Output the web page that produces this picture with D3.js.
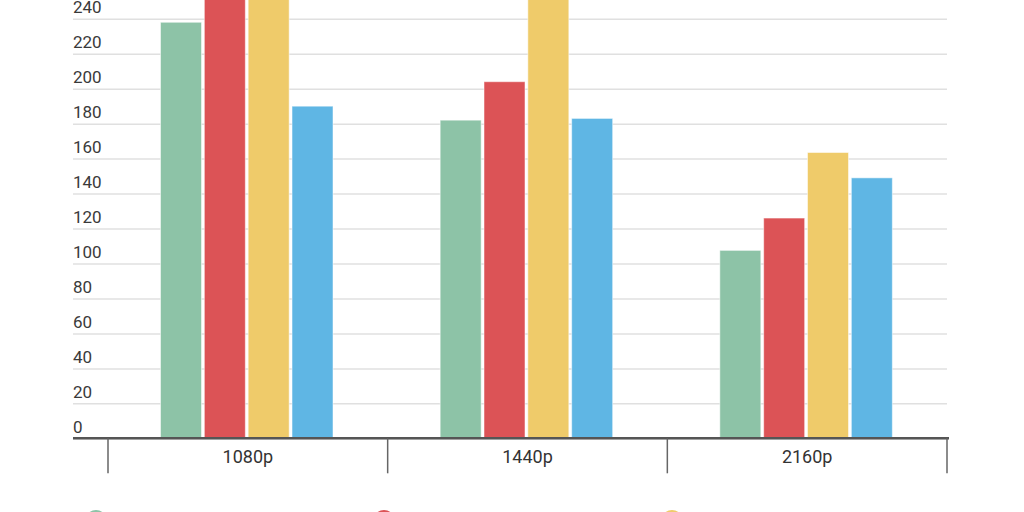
<!DOCTYPE html>
<html>
<head>
<meta charset="utf-8">
<script src="https://cdn.jsdelivr.net/npm/d3@7"></script>
<style>
	html, body { margin: 0; padding: 0; background: #fff; overflow: hidden; }
	#chart { width: 1024px; height: 512px; }
	.grid line { stroke: #e0e0e0; stroke-width: 1.5; }
	.grid path { display: none; }
	.grid text { font-family: Roboto, sans-serif; font-size: 17px; fill: #3a3a3a; }
	.cat text { font-family: Roboto, sans-serif; font-size: 18px; fill: #333; }
</style>
</head>
<body>
<div id="chart"></div>
<script>
var categories = ["1080p", "1440p", "2160p"];
var seriesNames = ["Series 1", "Series 2", "Series 3", "Series 4"];
var seriesColors = ["#8dc3a7", "#dc5356", "#efcb6a", "#5fb6e4"];
var series1 = [238, 182, 107.5];
var series2 = [280, 204, 126];
var series3 = [292, 262, 163.5];
var series4 = [190, 183, 149];
var yTicks = [0, 20, 40, 60, 80, 100, 120, 140, 160, 180, 200, 220, 240];

var allSeries = [series1, series2, series3, series4];

function drawBarChart() {
	var width = 1024,
		height = 512,
		gridLeft = 73,
		plotLeft = 108,
		plotRight = 947,
		zeroY = 438.3;

	var svg = d3.select("#chart")
		.append("svg")
		.attr("width", width)
		.attr("height", height);

	var x = d3.scaleBand()
		.domain(categories)
		.range([plotLeft, plotRight])
		.padding(0);

	var xSub = d3.scaleBand()
		.domain(seriesNames)
		.range([52.5, 225])
		.paddingInner(0.065)
		.paddingOuter(0);

	var y = d3.scaleLinear()
		.domain([0, 240])
		.range([zeroY, zeroY - 240 * 1.748]);

	// grid + y labels
	var grid = svg.append("g")
		.attr("class", "grid")
		.attr("transform", "translate(" + plotRight + ",0)")
		.call(d3.axisLeft(y).tickValues(yTicks).tickSize(plotRight - gridLeft).tickFormat(d3.format("d")));
	grid.selectAll("text")
		.attr("text-anchor", "start")
		.attr("x", -(plotRight - gridLeft))
		.attr("dy", "-0.35em");

	// bars
	var rows = categories.map(function (c, i) {
		return {
			cat: c,
			values: seriesNames.map(function (s, j) {
				return { name: s, value: allSeries[j][i], color: seriesColors[j] };
			})
		};
	});

	svg.append("g")
		.selectAll("g")
		.data(rows)
		.enter().append("g")
		.attr("transform", function (d) { return "translate(" + x(d.cat) + ",0)"; })
		.selectAll("rect")
		.data(function (d) { return d.values; })
		.enter().append("rect")
		.attr("x", function (d) { return xSub(d.name); })
		.attr("width", xSub.bandwidth())
		.attr("y", function (d) { return y(d.value); })
		.attr("height", function (d) { return zeroY - y(d.value); })
		.attr("fill", function (d) { return d.color; })
		.attr("stroke", "#fff")
		.attr("stroke-opacity", 0.5)
		.attr("stroke-width", 1);

	// baseline
	svg.append("line")
		.attr("x1", gridLeft)
		.attr("x2", plotRight + 2)
		.attr("y1", zeroY)
		.attr("y2", zeroY)
		.attr("stroke", "#555")
		.attr("stroke-width", 2.5);

	// category axis with boundary ticks
	var bounds = categories.map(function (c) { return x(c); }).concat([plotRight]);
	svg.append("g")
		.selectAll("line")
		.data(bounds)
		.enter().append("line")
		.attr("x1", function (d) { return d; })
		.attr("x2", function (d) { return d; })
		.attr("y1", zeroY)
		.attr("y2", zeroY + 35)
		.attr("stroke", "#666")
		.attr("stroke-width", 1.5);

	svg.append("g")
		.attr("class", "cat")
		.selectAll("text")
		.data(categories)
		.enter().append("text")
		.attr("x", function (d) { return x(d) + x.bandwidth() / 2; })
		.attr("y", zeroY + 25)
		.attr("text-anchor", "middle")
		.text(function (d) { return d; });

	// legend, sits below the visible area like in the source
	var legend = svg.append("g")
		.selectAll("g")
		.data(seriesNames.slice(0, 3))
		.enter().append("g")
		.attr("transform", function (d, i) { return "translate(" + (96 + i * 288) + ",521)"; });
	legend.append("circle")
		.attr("r", 11)
		.attr("fill", function (d, i) { return seriesColors[i]; });
	legend.append("text")
		.attr("x", 20)
		.attr("y", 24)
		.attr("font-family", "Roboto, sans-serif")
		.attr("font-size", 17)
		.attr("fill", "#444")
		.text(function (d) { return d; });
}

drawBarChart();
</script>
</body>
</html>
